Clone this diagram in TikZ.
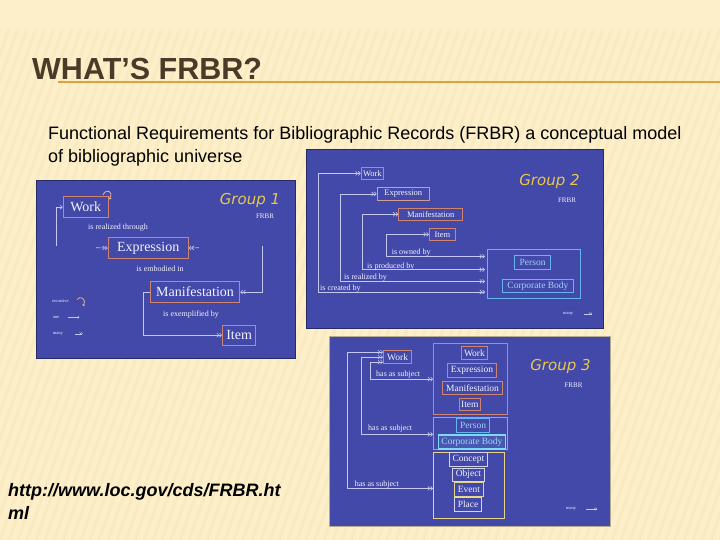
\documentclass[tikz,border=0pt]{standalone}
\usepackage{fontspec}
\setmainfont{Liberation Serif}
\setsansfont{Liberation Sans}
\newfontfamily\grpfont{DejaVu Sans}
\usetikzlibrary{arrows.meta}
\definecolor{bgc}{HTML}{FCEFC9}
\definecolor{stripec}{HTML}{EED7A0}
\definecolor{titlec}{HTML}{4A3A28}
\definecolor{rulec}{HTML}{E0A040}
\definecolor{panelc}{HTML}{4349A8}
\definecolor{paneledge}{HTML}{262B66}
\definecolor{salmonc}{HTML}{D08470}
\definecolor{skyc}{HTML}{66B4EE}
\definecolor{cyanc}{HTML}{7FD8F8}
\definecolor{sandc}{HTML}{E6D488}
\definecolor{lavc}{HTML}{D4D4F0}
\definecolor{linec}{HTML}{C4C8EE}
\definecolor{boxtext}{HTML}{F2F2FF}
\definecolor{grpc}{HTML}{E8C84C}
\tikzset{
  panel/.style={fill=panelc, draw=paneledge, line width=0.8pt},
  ebox/.style={draw=salmonc, line width=0.9pt, text=boxtext, inner sep=0pt, anchor=north west},
  sbox/.style={ebox, draw=skyc},
  cbox/.style={ebox, draw=cyanc},
  ybox/.style={ebox, draw=sandc},
  lbox/.style={ebox, draw=lavc},
  fbig/.style={font=\fontsize{14}{16}\selectfont},
  fmid/.style={font=\fontsize{9.5}{11}\selectfont},
  fsm/.style={font=\fontsize{8.5}{10}\selectfont},
  lab/.style={text=boxtext, inner sep=0pt, font=\fontsize{8}{9}\selectfont},
  leg/.style={text=boxtext, inner sep=0pt, font=\fontsize{4.5}{5}\selectfont},
  grp/.style={text=grpc, inner sep=0pt, font=\grpfont\itshape\fontsize{15}{17}\selectfont},
  frbr/.style={text=boxtext, inner sep=0pt, font=\fontsize{7}{8}\selectfont},
  cline/.style={draw=linec, line width=0.6pt},
  one/.style={cline, -{Straight Barb[length=2pt,width=4pt]}},
  many/.style={cline, -{Straight Barb[length=2pt,width=4pt] Straight Barb[length=2pt,width=4pt]}},
  manyboth/.style={cline, {Straight Barb[length=2pt,width=4pt] Straight Barb[length=2pt,width=4pt]}-{Straight Barb[length=2pt,width=4pt] Straight Barb[length=2pt,width=4pt]}}
}
\begin{document}
\begin{tikzpicture}[x=1pt,y=-1pt]
\useasboundingbox (0,0) rectangle (720,540);
% background
\fill[bgc] (0,0) rectangle (720,540);
\begin{scope}
  \clip (0,30) rectangle (720,540);
  \foreach \i in {-25,...,82} {
    \draw[stripec, line width=3pt, opacity=0.2] ({\i*9},540) -- ({\i*9+190},0);
  }
\end{scope}
% title
\draw[rulec, line width=2pt] (58,82) -- (720,82);
\node[anchor=base west, inner sep=0pt, text=titlec, font=\sffamily\bfseries\fontsize{30.5}{36}\selectfont] (title) at (32,80) {WHAT’S FRBR?};
\node[anchor=base west, inner sep=0pt, text=black, font=\sffamily\fontsize{18}{22}\selectfont] (body1) at (48,140) {Functional Requirements for Bibliographic Records (FRBR) a conceptual model};
\node[anchor=base west, inner sep=0pt, text=black, font=\sffamily\fontsize{18}{22}\selectfont] (body2) at (48,163) {of bibliographic universe};
\node[anchor=base west, inner sep=0pt, text=black, font=\sffamily\bfseries\itshape\fontsize{18}{22}\selectfont] (url1) at (8,496) {http://www.loc.gov/cds/FRBR.ht};
\node[anchor=base west, inner sep=0pt, text=black, font=\sffamily\bfseries\itshape\fontsize{18}{22}\selectfont] (url2) at (8,519) {ml};

% ================= Group 1 =================
\draw[panel] (36.5,180) rectangle (295,358);
\node[grp] (g1t) at (250,200) {Group 1};
\node[frbr] (g1f) at (265,216) {FRBR};
\node[ebox, fbig, minimum width=45pt, minimum height=20.7pt] (w1) at (62.7,196.3) {Work};
\node[ebox, fbig, minimum width=80pt, minimum height=20.7pt] (e1) at (107.7,237.3) {Expression};
\node[ebox, fbig, minimum width=89.3pt, minimum height=20.7pt] (m1) at (150,281.3) {Manifestation};
\node[ebox, fbig, minimum width=33.3pt, minimum height=20pt] (i1) at (222,324.7) {Item};
\draw[salmonc!70!white, line width=0.9pt, -{Straight Barb[length=1.5pt,width=3pt]}] (103,195) .. controls (106,188) and (114,191) .. (109,199.5);
\coordinate (g1a) at (56.7,246.3);
\draw[one] (g1a) |- (w1.west);
\coordinate (g1b) at (96,247.7);
\draw[many] (g1b) -- (e1.west);
\coordinate (g1c) at (199,247.7);
\draw[many] (g1c) -- (e1.east);
\coordinate (g1d) at (262.7,246.3);
\draw[many] (g1d) |- (m1.east);
\draw[many] (m1.west) -- ++(-6.7,0) |- (i1.west);
\node[lab] (l1a) at (118,228) {is realized through};
\node[lab] (l1b) at (160,268.5) {is embodied in};
\node[lab] (l1c) at (191,314.5) {is exemplified by};
\node[leg, anchor=west] (lg1) at (52,301) {recursive};
\draw[salmonc!70!white, line width=0.8pt, -{Straight Barb[length=1.2pt,width=2.5pt]}] (77,299.5) .. controls (80,295) and (87,299) .. (83,306);
\node[leg, anchor=west] (lg2) at (52.7,317.3) {one};
\draw[cline, line width=0.4pt, -{Straight Barb[length=1.2pt,width=2.5pt]}] (67.7,317.3) -- (79.3,317.3);
\node[leg, anchor=west] (lg3) at (52.7,333.7) {many};
\draw[cline, line width=0.4pt, -{Straight Barb[length=1.2pt,width=2.5pt] Straight Barb[length=1.2pt,width=2.5pt]}] (75,333.7) -- (82.7,333.7);

% ================= Group 2 =================
\draw[panel] (306,149) rectangle (603,328);
\node[grp] (g2t) at (549.5,181) {Group 2};
\node[frbr] (g2f) at (567,200.5) {FRBR};
\node[ebox, fsm, minimum width=22.5pt, minimum height=11.4pt] (w2) at (360.7,167.3) {Work};
\node[ebox, fsm, draw=salmonc!70!lavc, minimum width=52.3pt, minimum height=12.4pt] (e2) at (376.7,187.3) {Expression};
\node[ebox, fsm, minimum width=64pt, minimum height=11.7pt] (m2) at (398.3,208) {Manifestation};
\node[ebox, fsm, minimum width=26pt, minimum height=11.7pt] (i2) at (429,228) {Item};
\node[sbox, minimum width=93.3pt, minimum height=49pt] (pc2) at (486.7,249) {};
\node[sbox, fmid, minimum width=35.7pt, minimum height=13.4pt, text=skyc!60!white] (p2) at (514.3,255.3) {Person};
\node[sbox, fmid, minimum width=71.6pt, minimum height=13.3pt, text=skyc!60!white] (c2) at (501.7,278.7) {Corporate Body};
\coordinate (g2w) at (485,292);
\coordinate (g2e) at (485,281.3);
\coordinate (g2m) at (485,269.7);
\coordinate (g2i) at (485,256.3);
\draw[manyboth] (w2.west) -- ++(-42.4,0) |- (g2w);
\draw[manyboth] (e2.west) -- ++(-36.7,0) |- (g2e);
\draw[manyboth] (m2.west) -- ++(-35.6,0) |- (g2m);
\draw[manyboth] (i2.west) -- ++(-43,0) |- (g2i);
\node[lab, anchor=base west] (l2a) at (320,290.5) {is created by};
\node[lab, anchor=base west] (l2b) at (344,279.8) {is realized by};
\node[lab, anchor=base west] (l2c) at (367,268.2) {is produced by};
\node[lab, anchor=base west] (l2d) at (391.7,254.8) {is owned by};
\node[leg, anchor=west] (g2m1) at (563,313.7) {many};
\draw[cline, line width=0.4pt, -{Straight Barb[length=1.2pt,width=2.5pt] Straight Barb[length=1.2pt,width=2.5pt]}] (584,313.7) -- (592,313.7);

% ================= Group 3 =================
\draw[panel, draw=sandc!70!panelc] (329,336.5) rectangle (610,526.5);
\node[grp] (g3t) at (560.5,366) {Group 3};
\node[frbr] (g3f) at (573.5,385) {FRBR};
\node[ebox, fmid, minimum width=28.3pt, minimum height=13.3pt] (w3) at (383,350) {Work};
\node[ebox, minimum width=74pt, minimum height=70.7pt] (s3) at (433,343.3) {};
\node[ebox, fmid, minimum width=26.6pt, minimum height=13.3pt] (w3b) at (460.7,345.7) {Work};
\node[ebox, fmid, minimum width=48.4pt, minimum height=13.4pt] (e3) at (447.3,363.3) {Expression};
\node[ebox, fmid, minimum width=59.7pt, minimum height=13.6pt] (m3) at (442.3,380.7) {Manifestation};
\node[ebox, fmid, minimum width=20.7pt, minimum height=12.3pt] (i3) at (459,397.7) {Item};
\node[sbox, minimum width=74pt, minimum height=32pt] (lb3) at (433,417.3) {};
\node[sbox, fmid, minimum width=32.7pt, minimum height=14pt, text=skyc!60!white] (p3) at (456.3,418.3) {Person};
\node[cbox, fmid, line width=1.2pt, fill=panelc!85!skyc, minimum width=66.7pt, minimum height=14pt, text=skyc!60!white] (c3) at (438,434.3) {Corporate Body};
\node[ybox, minimum width=70.7pt, minimum height=66.6pt] (y3) at (433,451.7) {};
\node[lbox, fmid, minimum width=38.6pt, minimum height=14pt] (k3) at (448.7,451.7) {Concept};
\node[lbox, fmid, minimum width=32pt, minimum height=13pt] (o3) at (452,467.7) {Object};
\node[ybox, fmid, minimum width=29pt, minimum height=14.3pt] (v3) at (454,482) {Event};
\node[lbox, fmid, minimum width=27.3pt, minimum height=13.7pt] (pl3) at (454,497.3) {Place};
\draw[manyboth] ([yshift=5pt]w3.west) -- ++(-35.7,0) |- ([yshift=-3pt]y3.west);
\draw[manyboth] (w3.west) -- ++(-21.7,0) |- ([yshift=-0.7pt]lb3.west);
\draw[manyboth] ([yshift=-5pt]w3.west) -- ++(-12.3,0) |- (s3.west);
\node[lab, anchor=base west] (l3a) at (376,376) {has as subject};
\node[lab, anchor=base west] (l3b) at (368,430) {has as subject};
\node[lab, anchor=base west] (l3c) at (354.7,486) {has as subject};
\node[leg, anchor=west] (g3m1) at (566,509) {many};
\draw[cline, line width=0.4pt, -{Straight Barb[length=1.2pt,width=2.5pt] Straight Barb[length=1.2pt,width=2.5pt]}] (586,509) -- (597,509);
\end{tikzpicture}
\end{document}
